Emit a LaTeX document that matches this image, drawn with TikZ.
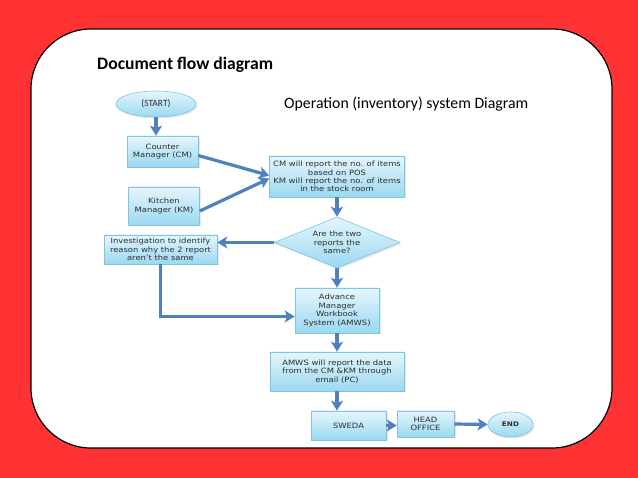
\documentclass[tikz,border=0pt]{standalone}
\usepackage{fontspec}
\setmainfont{Carlito}
\newfontfamily\boxfont[FakeStretch=1.15]{DejaVu Sans}
\usetikzlibrary{arrows.meta,shapes.geometric,shadows,calc}
\definecolor{bgred}{RGB}{255,51,51}
\definecolor{arrowblue}{RGB}{79,129,189}
\definecolor{boxtop}{RGB}{228,246,253}
\definecolor{boxbot}{RGB}{155,216,241}
\definecolor{boxline}{RGB}{128,196,228}
\definecolor{txtgray}{RGB}{45,45,45}
\begin{document}
\begin{tikzpicture}[x=1pt,y=-1pt,
  flowbox/.style={draw=boxline, line width=0.6pt, top color=boxtop, bottom color=boxbot,
    inner sep=0pt, align=center, text=txtgray,
    font=\boxfont\fontsize{7.3}{8.4}\selectfont,
    drop shadow={opacity=0.18, shadow xshift=1.5pt, shadow yshift=-1.5pt}},
  flowarrow/.style={draw=arrowblue, line width=3.2pt,
    -{Stealth[length=10pt,width=12pt,inset=2.5pt]}},
]
\useasboundingbox (0,0) rectangle (638,478);
\fill[bgred] (0,0) rectangle (638,478);
\draw[fill=white, line width=1.2pt, rounded corners=60pt] (31,29) rectangle (612,448);

\node[anchor=west, inner sep=0pt, font=\bfseries\fontsize{17.6}{20}\selectfont] (title) at (97,65) {Document flow diagram};
\node[anchor=west, inner sep=0pt, font=\fontsize{15.8}{18}\selectfont] (sub) at (284,104) {Operation (inventory) system Diagram};

\node[ellipse, flowbox, minimum width=80pt, minimum height=26pt, font=\fontsize{9.5}{11}\selectfont] (start) at (156,104) {(START)};
\node[flowbox, minimum width=71pt, minimum height=31pt] (cm) at (162.5,151.5) {Counter\\Manager (CM)};
\node[flowbox, minimum width=71pt, minimum height=38pt] (km) at (164,206) {Kitchen\\Manager (KM)};
\node[flowbox, minimum width=135pt, minimum height=41pt] (rep) at (337,176.5) {CM will report the no. of items\\based on POS\\KM will report the no. of items\\in the stock room};
\node[diamond, flowbox, shape aspect=2.47, minimum width=126pt, minimum height=51pt] (dec) at (337,242.5) {Are the two\\reports the\\same?};
\node[flowbox, minimum width=113pt, minimum height=29pt] (inv) at (160.5,249.5) {Investigation to identify\\reason why the 2 report\\aren’t the same};
\node[flowbox, minimum width=84pt, minimum height=45pt] (amws) at (337,310.5) {Advance\\Manager\\Workbook\\System (AMWS)};
\node[flowbox, minimum width=134pt, minimum height=39pt] (amrep) at (337,371.5) {AMWS will report the data\\from the CM \&KM through\\email (PC)};
\node[flowbox, minimum width=75pt, minimum height=29pt] (sweda) at (348.5,425.5) {SWEDA};
\node[flowbox, minimum width=57pt, minimum height=26pt] (head) at (425.5,424) {HEAD\\OFFICE};
\node[ellipse, flowbox, minimum width=45pt, minimum height=25pt, font=\boxfont\bfseries\fontsize{6.3}{7}\selectfont] (end) at (510.5,424.5) {END};

\draw[flowarrow] (start.south) -- (start.south |- cm.north);
\draw[flowarrow] ($(cm.east)+(0,4)$) -- ($(rep.west)+(0,-1)$);
\draw[flowarrow] ($(km.east)+(0,5)$) -- ($(rep.west)+(0,2)$);
\draw[flowarrow] (rep.south) -- (dec.north);
\draw[flowarrow] (dec.west) -- (dec.west -| inv.east);
\draw[flowarrow] (dec.south) -- (amws.north);
\draw[flowarrow] (inv.south) |- ($(amws.west)+(0,6)$);
\draw[flowarrow] (amws.south) -- (amrep.north);
\draw[flowarrow] (amrep.south) -- (amrep.south |- sweda.north);
\draw[flowarrow] (sweda.east) -- (sweda.east -| head.west);
\draw[flowarrow] (head.east) -- (end.west);
\end{tikzpicture}
\end{document}
